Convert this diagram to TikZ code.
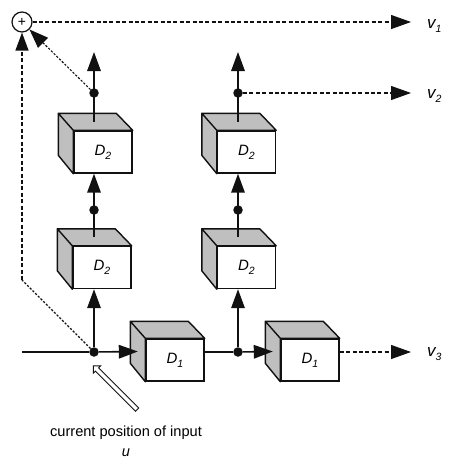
\documentclass[tikz,border=0pt]{standalone}
\usepackage{fontspec}
\setmainfont{Liberation Sans}
\usetikzlibrary{arrows.meta,positioning,shapes.arrows}
\definecolor{FaceGrey}{HTML}{BFBFBF}
\definecolor{Ink}{HTML}{111111}
\newcommand{\subtext}[2]{\textit{#1\raisebox{-4pt}{\fontsize{10.5}{11}\selectfont #2}}}

\begin{document}
\begin{tikzpicture}[
    x=1pt,y=-1pt,on grid,
    delay/.style={draw=Ink,fill=white,line width=1.4pt,minimum width=58pt,
      minimum height=42pt,inner sep=0pt,font=\fontsize{15}{17}\selectfont,
      append after command={\pgfextra{
        \filldraw[draw=Ink,fill=FaceGrey,line width=1.4pt,line join=round]
          (\tikzlastnode.north west) -- ++(-15pt,17pt) -- ++(58pt,0pt)
          -- (\tikzlastnode.north east) -- cycle
          (\tikzlastnode.north west) -- ++(-15pt,17pt) -- ++(0pt,-42pt)
          -- (\tikzlastnode.south west) -- cycle;
        \coordinate (\tikzlastnode-top) at ([shift={(-7.5pt,8.5pt)}]\tikzlastnode.north);
        \coordinate (\tikzlastnode-side) at ([shift={(-7.5pt,8.5pt)}]\tikzlastnode.west);
      }}},
    tap/.style={circle,fill=Ink,minimum size=9.5pt,inner sep=0pt},
    flow/.style={draw=Ink,line width=1.6pt,-{Triangle[length=19pt,width=13.5pt]}},
    plainflow/.style={draw=Ink,line width=1.6pt},
    dashflow/.style={draw=Ink,line width=1.3pt,dash pattern=on 4pt off 2.4pt,
      -{Triangle[length=20pt,width=14pt]}},
    dotflow/.style={draw=Ink,line width=1.1pt,dash pattern=on 2.2pt off 1.6pt},
    outlabel/.style={anchor=west,inner sep=0pt,font=\fontsize{17}{19}\selectfont}
  ]
    \useasboundingbox (0,0) rectangle (474,474);

    % delay elements
    \node[delay] (firstA) at (175,360) {\subtext{D}{1}};
    \node[delay,right=135pt of firstA] (firstB) {\subtext{D}{1}};
    \node[delay] (lowA) at (102,267.5) {\subtext{D}{2}};
    \node[delay,above=115.5pt of lowA,xshift=1pt] (highA) {\subtext{D}{2}};
    \node[delay] (lowB) at (246.5,267.5) {\subtext{D}{2}};
    \node[delay,above=115.5pt of lowB] (highB) {\subtext{D}{2}};

    % tap points and summer
    \node[tap] (tapIn) at (94,352) {};
    \node[tap] (tapOut) at (238,352) {};
    \node[tap] (tapMidA) at (94,210) {};
    \node[tap] (tapMidB) at (238,210) {};
    \node[tap] (tapTopA) at (94,93) {};
    \node[tap] (tapTopB) at (238,93) {};
    \node[draw=Ink,circle,line width=1.2pt,minimum size=20pt,inner sep=0pt,
      font=\fontsize{14}{14}\selectfont] (summer) at (22,22) {\raisebox{-3pt}{+}};

    \coordinate (start) at (22,352);
    \coordinate (bend) at (22,280);
    \coordinate (endA) at (94,52);
    \coordinate (endB) at (238,52);

    % outputs
    \node[outlabel] (vOne) at (427,26) {\subtext{v}{1}};
    \node[outlabel] (vTwo) at (427,96) {\subtext{v}{2}};
    \node[outlabel] (vThree) at (427,354) {\subtext{v}{3}};

    % solid paths
    \draw[plainflow] (start) -- (tapIn);
    \draw[flow] (tapIn) -- (firstA-side);
    \draw[plainflow] (tapOut -| firstA.east) -- (tapOut);
    \draw[flow] (tapOut) -- (firstB-side);
    \draw[flow] (tapIn) -- (tapIn |- lowA.south);
    \draw[flow] (tapOut) -- (tapOut |- lowB.south);
    \draw[flow] (tapMidA |- lowA-top) -- (tapMidA |- highA.south);
    \draw[flow] (tapMidB |- lowB-top) -- (tapMidB |- highB.south);
    \draw[flow] (tapTopA |- highA-top) -- (endA);
    \draw[flow] (tapTopB |- highB-top) -- (endB);

    % dashed paths
    \draw[dashflow] (summer.east) -- ([xshift=-16pt]vOne.west |- summer);
    \draw[dashflow] (tapTopB) -- ([xshift=-16pt]vTwo.west |- tapTopB);
    \draw[dashflow] (tapOut -| firstB.east) -- ([xshift=-16pt]vThree.west |- tapOut);
    \draw[dotflow] (tapIn) -- (bend);
    \draw[dashflow,-{Triangle[length=18pt,width=13pt]}] (bend) -- (summer.south);
    \draw[dotflow,-{Triangle[length=19pt,width=14pt]}] (tapTopA) -- (summer.south east);

    % input marker
    \node[single arrow,draw=Ink,fill=white,line width=1pt,rotate=135,inner sep=1.8pt,
      minimum height=62pt,single arrow head extend=3pt,
      single arrow head indent=0pt] (marker) at (116,388.5) {};
    \node[align=center,font=\fontsize{14.6}{20}\selectfont] (caption) at (126,441)
      {current position of input\\\textit{u}};
  \end{tikzpicture}
\end{document}
